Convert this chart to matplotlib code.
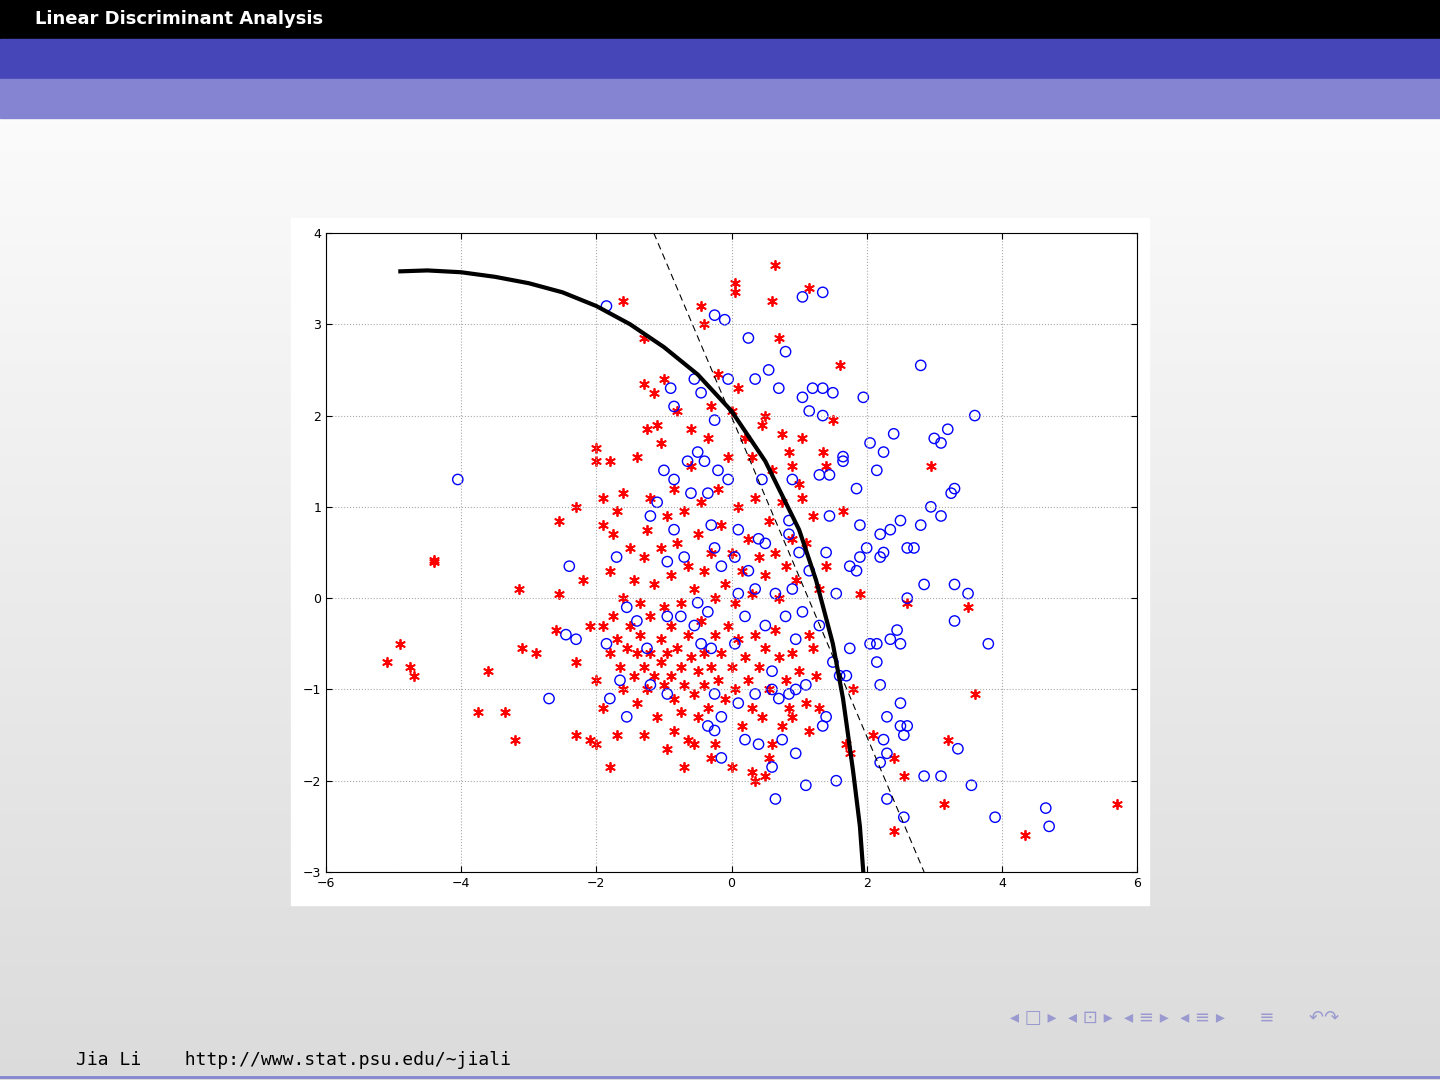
import numpy as np
import matplotlib
matplotlib.use("Agg")
import matplotlib.pyplot as plt

curve_x = [-4.9,-4.5,-4,-3.5,-3,-2.5,-2,-1.5,-1,-0.5,0,0.5,1,1.25,1.5,1.65,1.8,1.9,1.95]
curve_y = [3.58,3.59,3.57,3.52,3.45,3.35,3.2,3.0,2.75,2.45,2.05,1.5,0.75,0.2,-0.5,-1.1,-1.9,-2.5,-3.0]
dash_x = [-1.15, 2.85]
dash_y = [4.0, -3.0]

blue = [(-4.05,1.3),(-1.85,3.2),(1.05,3.3),(1.35,3.35),(2.8,2.55),(3.6,2.0),(1.95,2.2),(-0.25,3.1),(-0.1,3.05),(0.25,2.85),(0.55,2.5),(0.8,2.7),(0.35,2.4),(0.7,2.3),(1.2,2.3),(1.35,2.3),(1.5,2.25),(-0.9,2.3),(-0.55,2.4),(-0.45,2.25),(-0.05,2.4),(1.05,2.2),(1.15,2.05),(1.35,2.0),(-0.85,2.1),(-0.25,1.95),(-0.5,1.6),(-0.4,1.5),(-0.65,1.5),(-1.0,1.4),(-0.85,1.3),(-0.2,1.4),(-0.05,1.3),(0.45,1.3),(0.9,1.3),(1.3,1.35),(1.45,1.35),(1.65,1.5),(1.85,1.2),(2.15,1.4),(2.25,1.6),(2.4,1.8),(1.65,1.55),(2.05,1.7),(-0.6,1.15),(-0.35,1.15),(-1.1,1.05),(-1.2,0.9),(-0.85,0.75),(-0.3,0.8),(0.1,0.75),(0.85,0.85),(1.45,0.9),(1.9,0.8),(2.2,0.7),(2.35,0.75),(2.5,0.85),(2.8,0.8),(2.95,1.0),(3.0,1.75),(3.1,1.7),(3.2,1.85),(3.25,1.15),(3.3,1.2),(3.1,0.9),(2.6,0.55),(2.7,0.55),(1.0,0.5),(1.4,0.5),(1.9,0.45),(2.0,0.55),(2.2,0.45),(2.25,0.5),(-0.95,0.4),(-0.7,0.45),(-0.25,0.55),(0.05,0.45),(0.4,0.65),(0.5,0.6),(0.85,0.7),(-2.4,0.35),(-1.7,0.45),(-0.15,0.35),(0.25,0.3),(1.15,0.3),(1.75,0.35),(1.85,0.3),(3.3,0.15),(2.85,0.15),(3.5,0.05),(1.55,0.05),(2.6,0.0),(-0.95,-0.2),(-0.75,-0.2),(-0.55,-0.3),(-0.35,-0.15),(0.2,-0.2),(0.5,-0.3),(0.8,-0.2),(1.05,-0.15),(-1.55,-0.1),(-1.4,-0.25),(-2.45,-0.4),(-2.3,-0.45),(-1.85,-0.5),(-1.25,-0.55),(-0.45,-0.5),(-0.3,-0.55),(0.05,-0.5),(0.95,-0.45),(1.3,-0.3),(1.5,-0.7),(1.75,-0.55),(2.05,-0.5),(2.15,-0.5),(2.35,-0.45),(2.45,-0.35),(2.5,-0.5),(3.3,-0.25),(3.8,-0.5),(-2.7,-1.1),(-1.8,-1.1),(-1.65,-0.9),(-1.55,-1.3),(-1.2,-0.95),(-0.95,-1.05),(-0.25,-1.05),(-0.15,-1.3),(0.1,-1.15),(0.35,-1.05),(0.6,-0.8),(0.6,-1.0),(0.7,-1.1),(0.85,-1.05),(0.95,-1.0),(1.1,-0.95),(1.35,-1.4),(1.4,-1.3),(1.6,-0.85),(1.7,-0.85),(2.15,-0.7),(2.2,-0.95),(2.3,-1.3),(2.5,-1.15),(2.5,-1.4),(2.6,-1.4),(2.55,-1.5),(2.25,-1.55),(2.3,-1.7),(2.2,-1.8),(-0.25,-1.45),(-0.35,-1.4),(0.2,-1.55),(0.4,-1.6),(0.75,-1.55),(0.95,-1.7),(0.6,-1.85),(-0.15,-1.75),(1.1,-2.05),(0.65,-2.2),(1.55,-2.0),(2.3,-2.2),(2.55,-2.4),(2.85,-1.95),(3.1,-1.95),(3.35,-1.65),(3.55,-2.05),(3.9,-2.4),(4.65,-2.3),(4.7,-2.5),(-0.5,-0.05),(0.1,0.05),(0.35,0.1),(0.65,0.05),(0.9,0.1)]

red = [(-5.1,-0.7),(-4.9,-0.5),(-4.75,-0.75),(-4.7,-0.85),(-4.4,0.4),(-4.4,0.42),(-3.6,-0.8),(-3.75,-1.25),(-3.35,-1.25),(-3.2,-1.55),(-3.15,0.1),(-3.1,-0.55),(-2.9,-0.6),(-2.6,-0.35),(-2.55,0.05),(-2.55,0.85),(-2.3,1.0),(-2.3,-1.5),(-2.1,-1.55),(-2.0,-1.6),(-1.8,-1.85),(-2.0,1.65),(-2.0,1.5),(-1.8,1.5),(-1.9,1.1),(-1.7,0.95),(-1.75,0.7),(-1.6,3.25),(-1.3,2.85),(-1.3,2.35),(-1.15,2.25),(-1.25,1.85),(-1.1,1.9),(-1.0,2.4),(-0.45,3.2),(-0.4,3.0),(0.05,3.45),(0.05,3.35),(0.65,3.65),(0.6,3.25),(1.15,3.4),(0.7,2.85),(1.6,2.55),(1.5,1.95),(-0.2,2.45),(0.1,2.3),(0.5,2.0),(0.75,1.8),(1.05,1.75),(1.35,1.6),(1.4,1.45),(0.9,1.45),(2.95,1.45),(1.65,0.95),(1.05,1.1),(1.4,0.35),(1.9,0.05),(3.5,-0.1),(3.6,-1.05),(3.2,-1.55),(3.15,-2.25),(4.35,-2.6),(5.7,-2.25),(2.4,-2.55),(2.55,-1.95),(2.4,-1.75),(2.6,-0.05),(2.1,-1.5),(1.8,-1.0),(1.7,-1.6),(1.75,-1.7),(1.3,-1.2),(1.15,-1.45),(0.9,-1.3),(0.75,-1.4),(0.55,-1.75),(0.3,-1.9),(0.35,-2.0),(0.5,-1.95),(0.0,-1.85),(-0.3,-1.75),(-0.25,-1.6),
(-1.9,-0.3),(-1.8,-0.6),(-1.75,-0.2),(-1.7,-0.45),(-1.65,-0.75),(-1.6,-1.0),(-1.55,-0.55),(-1.5,-0.3),(-1.45,-0.85),(-1.4,-0.6),(-1.4,-1.15),(-1.35,-0.4),(-1.3,-0.75),(-1.25,-1.0),(-1.2,-0.2),(-1.2,-0.6),(-1.15,-0.85),(-1.1,-1.3),(-1.05,-0.45),(-1.05,-0.7),(-1.0,-0.95),(-0.95,-0.6),(-0.9,-0.3),(-0.9,-0.85),(-0.85,-1.1),(-0.85,-1.45),(-0.8,-0.55),(-0.75,-0.75),(-0.75,-1.25),(-0.7,-0.95),(-0.65,-0.4),(-0.65,-1.55),(-0.6,-0.65),(-0.55,-1.05),(-0.5,-0.8),(-0.5,-1.3),(-0.45,-0.25),(-0.4,-0.6),(-0.4,-0.95),(-0.35,-1.2),(-0.3,-0.75),(-0.25,-0.4),(-0.2,-0.9),(-0.15,-0.6),(-0.1,-1.1),(-0.05,-0.3),(0.0,-0.75),(0.05,-1.0),(0.1,-0.45),(0.15,-1.4),(0.2,-0.65),(0.25,-0.9),(0.3,-1.2),(0.35,-0.4),(0.4,-0.75),(0.45,-1.3),(0.5,-0.55),(0.55,-1.0),(0.6,-1.6),(0.65,-0.35),(0.7,-0.65),(0.8,-0.9),(0.85,-1.2),(0.9,-0.6),(1.0,-0.8),(1.1,-1.15),(1.2,-0.55),(1.25,-0.85),
(-1.8,0.3),(-1.6,0.0),(-1.5,0.55),(-1.45,0.2),(-1.35,-0.05),(-1.3,0.45),(-1.25,0.75),(-1.2,1.1),(-1.15,0.15),(-1.05,0.55),(-1.0,-0.1),(-0.95,0.9),(-0.9,0.25),(-0.85,1.2),(-0.8,0.6),(-0.75,-0.05),(-0.7,0.95),(-0.65,0.35),(-0.6,1.45),(-0.55,0.1),(-0.5,0.7),(-0.45,1.05),(-0.4,0.3),(-0.35,1.75),(-0.3,0.5),(-0.25,0.0),(-0.2,1.2),(-0.15,0.8),(-0.1,0.15),(-0.05,1.55),(0.0,0.5),(0.05,-0.05),(0.1,1.0),(0.15,0.3),(0.2,1.75),(0.25,0.65),(0.3,0.05),(0.35,1.1),(0.4,0.45),(0.45,1.9),(0.5,0.25),(0.55,0.85),(0.6,1.4),(0.65,0.5),(0.7,0.0),(0.75,1.05),(0.8,0.35),(0.85,1.6),(0.9,0.65),(0.95,0.2),(1.0,1.25),(1.1,0.6),(1.15,-0.4),(1.2,0.9),(1.3,0.1),(-1.4,1.55),(-1.6,1.15),(-1.05,1.7),(-0.8,2.05),(-0.6,1.85),(-0.3,2.1),(0.0,2.05),(0.3,1.55),(-1.9,0.8),(-2.2,0.2),(-2.3,-0.7),(-2.0,-0.9),(-2.1,-0.3),(-1.9,-1.2),(-1.7,-1.5),(-1.3,-1.5),(-0.95,-1.65),(-0.55,-1.6),(-0.7,-1.85)]

W, H = 1440, 1080
fig = plt.figure(figsize=(14.4, 10.8), dpi=100)
bg = fig.add_axes([0, 0, 1, 1])
grad = np.linspace(1.0, 0.86, 256)[:, None]
bg.imshow(np.dstack([grad, grad, grad]), aspect='auto', extent=[0, W, H, 0])
bg.set_xlim(0, W); bg.set_ylim(H, 0); bg.axis('off')
bg.add_patch(plt.Rectangle((0, 0), W, 39, color='black'))
bg.add_patch(plt.Rectangle((0, 39), W, 40, color='#4646b8'))
bg.add_patch(plt.Rectangle((0, 79), W, 39, color='#8484d2'))
bg.add_patch(plt.Rectangle((291, 218), 858, 687, color='white'))
bg.text(35, 19, "Linear Discriminant Analysis", color='white', fontsize=13, fontweight='bold', va='center')
bg.text(76, 1060, "Jia Li    http://www.stat.psu.edu/∼jiali", family='DejaVu Sans Mono', fontsize=13, va='center')
bg.plot([0, W], [1077, 1077], color='#8484d2', lw=2)
bg.text(1175, 1018, "◂ □ ▸  ◂ ⊡ ▸  ◂ ≡ ▸  ◂ ≡ ▸      ≡      ↶↷", color='#9a9ad0', fontsize=13, ha='center', va='center')

ax = fig.add_axes([326/W, 1 - 872/H, (1137-326)/W, (872-233)/H])
bx, by = zip(*blue)
rx, ry = zip(*red)
ax.scatter(rx, ry, marker=(6, 2, 0), s=45, color='red', linewidths=1.3)
ax.scatter(bx, by, marker='o', s=55, facecolors='none', edgecolors='blue', linewidths=1)
ax.plot(curve_x, curve_y, color='black', lw=3)
ax.plot(dash_x, dash_y, color='black', lw=0.8, ls=(0, (6, 4)))
ax.set_xlim(-6, 6); ax.set_ylim(-3, 4)
ax.set_xticks(range(-6, 7, 2)); ax.set_yticks(range(-3, 5))
ax.grid(True, ls=':', color='#aaaaaa', lw=0.8)
ax.tick_params(labelsize=9, direction='in', top=True, right=True, length=4)
fig.savefig("out.png", dpi=100)
